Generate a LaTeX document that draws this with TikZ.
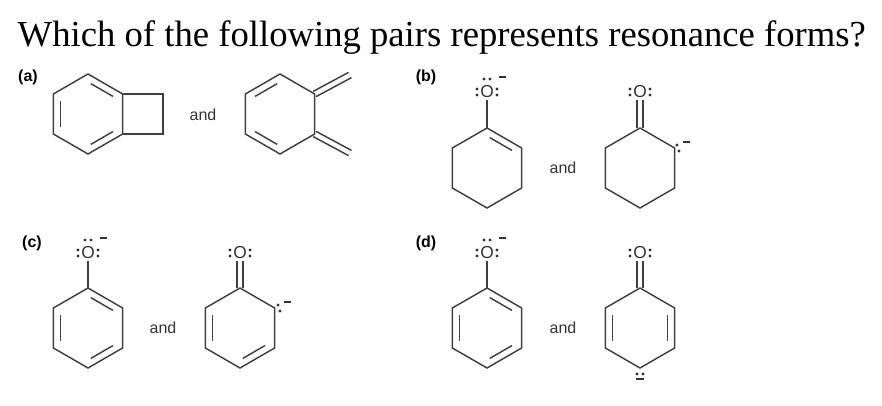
\documentclass[tikz,border=0pt]{standalone}
\usepackage{fontspec}
\setmainfont{Liberation Serif}
\newfontfamily\lab{Liberation Sans}
\usetikzlibrary{calc}
\begin{document}
\begin{tikzpicture}[x=0.75pt,y=-0.75pt,line width=1.1pt,
  bond/.style={draw=black!75,line join=miter},
  txt/.style={inner sep=0pt,font=\lab\fontsize{12}{12}\selectfont,text=black!80},
  lbl/.style={inner sep=0pt,font=\lab\bfseries\fontsize{12}{12}\selectfont}]
\useasboundingbox (0,0) rectangle (882,406);
\newcommand\ringat[2]{%
 \coordinate (c) at (#1,#2);
 \coordinate (v0) at (#1,#2-40); \coordinate (v1) at (#1+34.64,#2-20);
 \coordinate (v2) at (#1+34.64,#2+20); \coordinate (v3) at (#1,#2+40);
 \coordinate (v4) at (#1-34.64,#2+20); \coordinate (v5) at (#1-34.64,#2-20);
 \coordinate (p0) at (#1,#2-32); \coordinate (p1) at (#1+27.71,#2-16);
 \coordinate (p2) at (#1+27.71,#2+16); \coordinate (p3) at (#1,#2+32);
 \coordinate (p4) at (#1-27.71,#2+16); \coordinate (p5) at (#1-27.71,#2-16);
 \draw[bond] (v0)--(v1)--(v2)--(v3)--(v4)--(v5)--cycle;}
\newcommand\inner[2]{\draw[bond] ($(p#1)!0.1!(p#2)$)--($(p#2)!0.1!(p#1)$);}
\newcommand\oxm[2]{% anionic O
 \node[txt,font=\lab\fontsize{13}{13}\selectfont] at (#1,#2) {O};
 \fill[black!80] (#1-10,#2-3) circle (1.6) (#1-10,#2+3) circle (1.6)
   (#1+10,#2-3) circle (1.6) (#1+10,#2+3) circle (1.6)
   (#1-3,#2-13) circle (1.6) (#1+3,#2-13) circle (1.6);
 \draw[black!80,line width=1pt] (#1+12,#2-15)--(#1+19,#2-15);}
\newcommand\oxn[2]{% neutral O
 \node[txt,font=\lab\fontsize{13}{13}\selectfont] at (#1,#2) {O};
 \fill[black!80] (#1-10,#2-3) circle (1.6) (#1-10,#2+3) circle (1.6)
   (#1+10,#2-3) circle (1.6) (#1+10,#2+3) circle (1.6);}
\newcommand\carbo[2]{%
 \fill[black!80] (#1+3,#2-3) circle (1.6) (#1+5,#2+3) circle (1.6);
 \draw[black!80,line width=1pt] (#1+9,#2-6)--(#1+16,#2-6);}
\node[anchor=base west,inner sep=0pt,font=\fontsize{27.5}{27.5}\selectfont] at (17,47) {Which of the following pairs represents resonance forms?};
% (a)
\node[lbl] at (28,77) {(a)};
\ringat{88}{114}\inner01\inner23\inner45
\draw[bond] (v1)--(163,94)--(163,134)--(v2);
\node[txt] at (203,115) {and};
\ringat{280}{114}\inner50\inner34
\draw[bond] ($(v1)+(-1.5,-2.6)$)--(348.5,72.4) ($(v1)+(1.5,2.6)$)--(351.5,77.6);
\draw[bond] ($(v2)+(1.5,-2.6)$)--(351.5,150.4) ($(v2)+(-1.5,2.6)$)--(348.5,155.6);
% (b)
\node[lbl] at (426,77) {(b)};
\oxm{487}{92}
\ringat{487}{168}\inner01
\draw[bond] (487,100)--(v0);
\node[txt] at (563,168) {and};
\oxn{640}{92}
\ringat{640}{168}
\draw[bond] (637,100)--(637,128) (643,100)--(643,128);
\carbo{674}{148}
% (c)
\node[lbl] at (32,243) {(c)};
\oxm{88}{253}
\ringat{88}{328}\inner01\inner23\inner45
\draw[bond] (88,261)--(v0);
\node[txt] at (163,328) {and};
\oxn{240}{253}
\ringat{240}{328}\inner45\inner23
\draw[bond] (237,261)--(237,288) (243,261)--(243,288);
\carbo{275}{308}
% (d)
\node[lbl] at (426,243) {(d)};
\oxm{487}{253}
\ringat{487}{328}\inner01\inner23\inner45
\draw[bond] (487,261)--(v0);
\node[txt] at (563,328) {and};
\oxn{640}{253}
\ringat{640}{328}\inner12\inner45
\draw[bond] (637,261)--(637,288) (643,261)--(643,288);
\fill[black!80] (637,374) circle (1.6) (643,374) circle (1.6);
\draw[black!80,line width=1pt] (636,379)--(644,379);
\end{tikzpicture}
\end{document}
